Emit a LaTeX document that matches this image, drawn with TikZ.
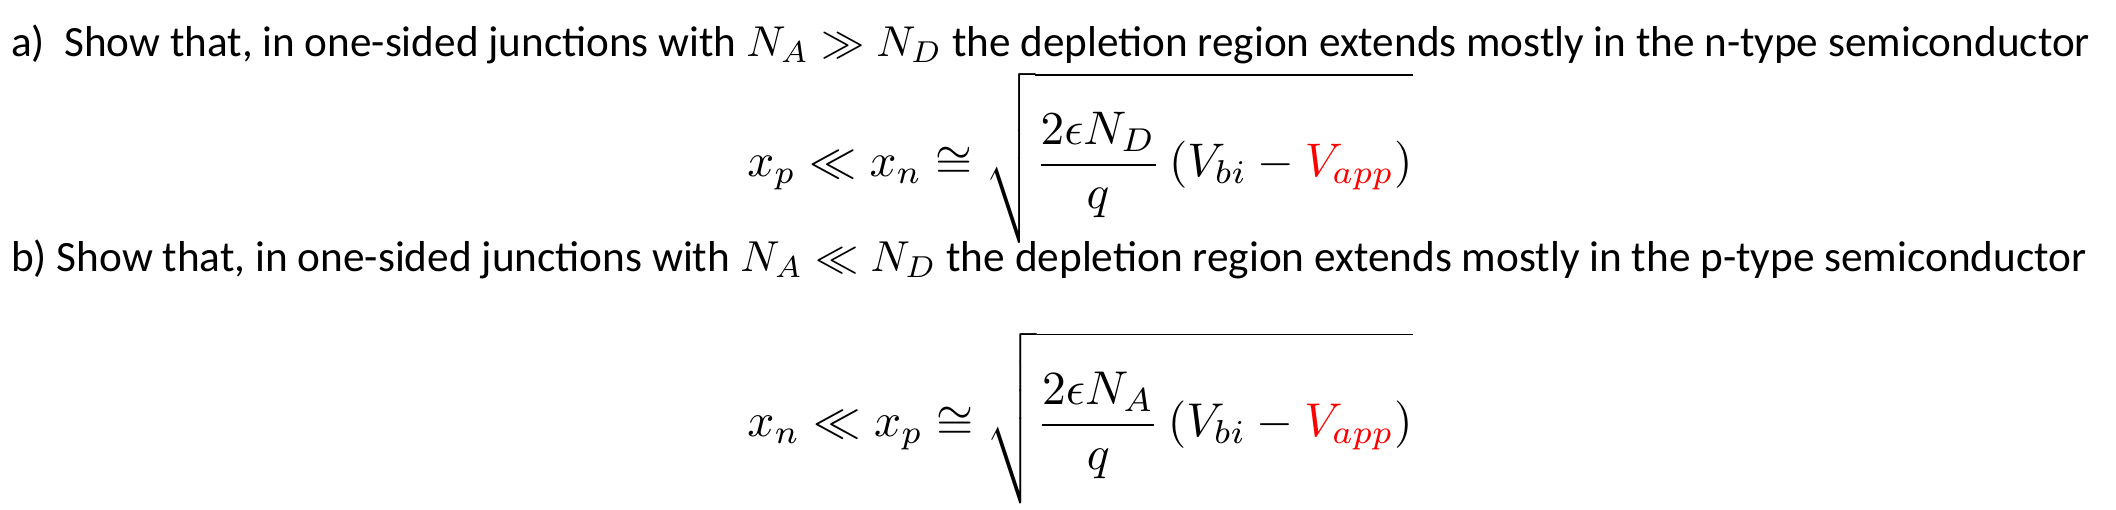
\documentclass[tikz,border=0pt]{standalone}
\usepackage{amsmath,amssymb}
\usepackage{fontspec}
\setmainfont{Carlito}
\tikzset{txt/.style={anchor=west,inner sep=0pt}, eq/.style={anchor=center,inner sep=0pt}}
\begin{document}
\begin{tikzpicture}[x=1pt,y=1pt]
\useasboundingbox (0,0) rectangle (2116,510);
\node[txt] (la) at (11,466) {\resizebox{2078pt}{!}{a)\ \ Show that, in one-sided junctions with $N_A \gg N_D$ the depletion region extends mostly in the n-type semiconductor}};
\node[eq] (fa) at (1080,352) {\resizebox{665pt}{!}{$x_p \ll x_n \cong \sqrt{\dfrac{\rule{0pt}{2.6ex}2\epsilon N_D}{\rule[-1.2ex]{0pt}{1ex}q}\left(V_{bi}-\textcolor{red}{V_{app}}\right)}$}};
\node[txt] (lb) at (11,251) {\resizebox{2075pt}{!}{b) Show that, in one-sided junctions with $N_A \ll N_D$ the depletion region extends mostly in the p-type semiconductor}};
\node[eq] (fb) at (1080,92) {\resizebox{665pt}{!}{$x_n \ll x_p \cong \sqrt{\dfrac{\rule{0pt}{2.6ex}2\epsilon N_A}{\rule[-1.2ex]{0pt}{1ex}q}\left(V_{bi}-\textcolor{red}{V_{app}}\right)}$}};
\end{tikzpicture}
\end{document}
